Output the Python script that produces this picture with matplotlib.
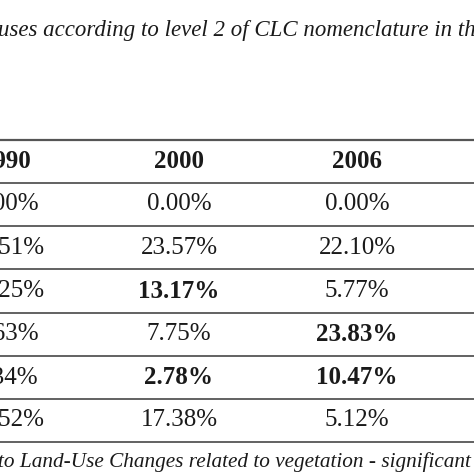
import matplotlib
matplotlib.use("Agg")
import matplotlib.pyplot as plt

# table content (cropped reference)
col_headers = ["1990", "2000", "2006"]
col_1990 = ["0.00%", "24.51%", "12.25%", "8.63%", "3.34%", "19.52%"]
col_2000 = ["0.00%", "23.57%", "13.17%", "7.75%", "2.78%", "17.38%"]
col_2006 = ["0.00%", "22.10%", "5.77%", "23.83%", "10.47%", "5.12%"]
bold_2000 = [False, False, True, False, True, False]
bold_2006 = [False, False, False, True, True, False]
title_text = "uses according to level 2 of CLC nomenclature in th"
caption_text = "to Land-Use Changes related to vegetation - significant"

W, H = 474, 474
fig = plt.figure(figsize=(W / 100, H / 100), dpi=100)
ax = fig.add_axes([0, 0, 1, 1])
ax.set_xlim(0, W)
ax.set_ylim(H, 0)
ax.axis("off")

serif = "Liberation Serif"
ink = "#1a1a1a"

ax.text(-2, 30, title_text, fontsize=16.5, style="italic", family=serif,
        color=ink, va="center", ha="left")

col_x = [6, 179, 357]
rules = [140, 183, 226, 269, 313, 356, 399, 442]
for y in rules:
    ax.plot([0, W], [y, y], color="#555555", lw=1.3 if y != 140 else 1.6,
            solid_capstyle="butt")

for x, h in zip(col_x, col_headers):
    ax.text(x, 162, h, fontsize=18, fontweight="bold", family=serif,
            color=ink, ha="center", va="center")

cols = [col_1990, col_2000, col_2006]
bolds = [[False] * 6, bold_2000, bold_2006]
for x, vals, bl in zip(col_x, cols, bolds):
    for i, v in enumerate(vals):
        y = (rules[i + 1] + rules[i + 2]) / 2
        ax.text(x, y, v, fontsize=18, family=serif, color=ink,
                fontweight="bold" if bl[i] else "normal",
                ha="center", va="center")

ax.text(-2, 462, caption_text, fontsize=15.3, style="italic", family=serif,
        color=ink, va="center", ha="left")

fig.savefig("out.png", dpi=100)
